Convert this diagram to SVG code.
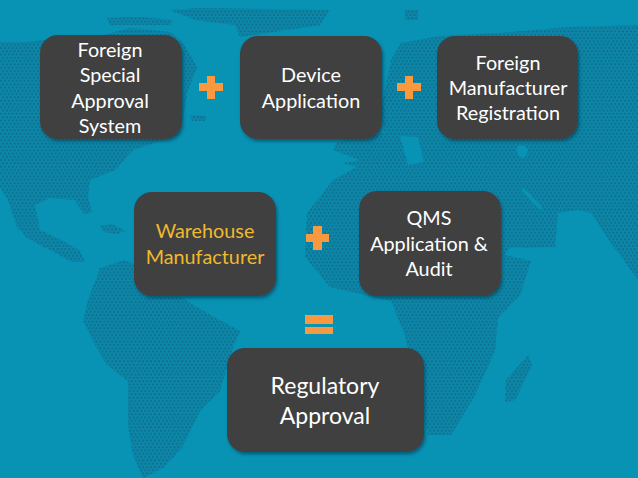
<svg xmlns="http://www.w3.org/2000/svg" width="638" height="478" viewBox="0 0 638 478">
<style>
.box{fill:#404040;filter:url(#sh)}
.t{font-family:"Lato","Carlito","Liberation Sans",sans-serif;font-size:19.8px;fill:#fff;text-anchor:middle}
.y{fill:#f0b92d}
.big{font-size:23px}
.op{fill:#f8983f}
</style>
<defs>
<pattern id="dots" width="3.9" height="6.6" patternUnits="userSpaceOnUse">
<rect width="3.9" height="6.6" fill="#0988aa"/>
<circle cx="1" cy="1.65" r="1.2" fill="#0a7190"/>
<circle cx="2.95" cy="4.95" r="1.2" fill="#0a7190"/>
</pattern>
<filter id="sh" x="-10%" y="-10%" width="125%" height="125%">
<feDropShadow dx="1.5" dy="2.5" stdDeviation="1.5" flood-color="#04475c" flood-opacity=".65"/>
</filter>
<filter id="soft"><feGaussianBlur stdDeviation="0.5"/></filter>
</defs>
<rect id="bg" width="638" height="478" fill="#0892b4"/>
<g id="map" fill="url(#dots)" fill-rule="evenodd" filter="url(#soft)">
<path d="M0 42L28 42L60 38L100 36L130 28L170 32L183 43L197 67L188 90L180 135L133 150L115 170L90 180L88 197L92 212L84 214L75 200L50 198L35 205L40 230L63 241L80 251L85 262L72 262L50 250L27 238L17 227L8 200L0 187Z"/>
<path d="M107 18L140 17L173 20L170 25L110 25Z"/>
<path d="M100 226L112 224L125 231L116 234L104 232Z"/>
<path d="M190 115L206 116L205 121L192 121Z"/>
<path d="M170 10L200 8L330 10L320 25L240 37L235 25L195 20Z"/>
<path d="M405 10L418 10L418 20L405 20Z"/>
<path d="M100 268L125 260L150 272L187 301L207 313L240 331L232 350L220 391L200 411L182 448L163 468L143 478L133 455L128 425L128 381L107 365L95 345L83 321L88 300Z"/>
<path d="M391 60L401 43L440 36L500 33L568 27L638 25L638 280L631 270L611 243L591 213L578 210L558 213L555 247L510 248L505 255L531 261L520 295L498 318L495 351L475 395L451 435L428 435L405 335L391 301L330 287L305 257L307 213L333 180L357 167L343 163L360 160L333 150L337 142L385 133L381 110ZM400 136L418 137L424 162L408 165ZM517 147Q522 143 527 148Q529 155 523 158Q516 156 517 147ZM521 190L524 188L543 208L540 210Z"/>
<path d="M528 355L532 365L515 400L505 402L506 380Z"/>
</g>
<g id="connectors">
<path class="op" d="M207 76h8v7h8v8h-8v8h-8v-8h-8v-8h8z"/>
<path class="op" d="M405 76h8v7h8v8h-8v8h-8v-8h-8v-8h8z"/>
<path class="op" d="M313 226h9v8h7v8h-7v8h-9v-8h-7v-8h7z"/>
<path class="op" d="M305 315h28v9h-28zM305 327h28v7h-28z"/>
</g>
<g id="foreign-special"><rect class="box" x="40" y="35" width="142" height="104" rx="18"/>
<text class="t" x="110" y="57">Foreign</text><text class="t" x="110" y="82">Special</text><text class="t" x="110" y="108">Approval</text><text class="t" x="110" y="133">System</text></g>
<g id="device"><rect class="box" x="240" y="36" width="142" height="103" rx="18"/>
<text class="t" x="311" y="82">Device</text><text class="t" x="311" y="108">Application</text></g>
<g id="foreign-manufacturer"><rect class="box" x="437" y="36" width="141" height="103" rx="18"/>
<text class="t" x="508" y="70">Foreign</text><text class="t" x="508" y="95">Manufacturer</text><text class="t" x="508" y="120">Registration</text></g>
<g id="warehouse"><rect class="box" x="134" y="192" width="142" height="104" rx="18"/>
<text class="t y" x="205" y="238">Warehouse</text><text class="t y" x="205" y="264">Manufacturer</text></g>
<g id="qms"><rect class="box" x="359" y="191" width="142" height="105" rx="18"/>
<text class="t" x="429" y="225">QMS</text><text class="t" x="429" y="251">Application &amp;</text><text class="t" x="429" y="276">Audit</text></g>
<g id="regulatory"><rect class="box" x="227" y="348" width="197" height="104" rx="18"/>
<text class="t big" x="325" y="394">Regulatory</text><text class="t big" x="325" y="424">Approval</text></g>
</svg>
